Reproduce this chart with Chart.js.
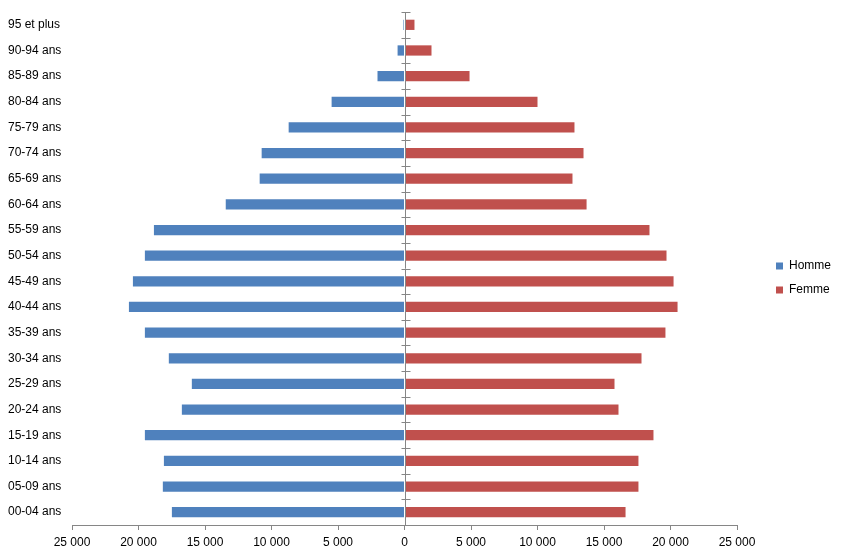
<!DOCTYPE html>
<html>
<head>
<meta charset="utf-8">
<script src="https://cdn.jsdelivr.net/npm/chart.js@4"></script>
<style>
html,body{margin:0;padding:0;background:#fff;}
#wrap{width:843px;height:556px;position:relative;}
</style>
</head>
<body>
<div id="wrap"><canvas id="c" width="843" height="556"></canvas></div>
<script>
const categories = ['95 et plus','90-94 ans','85-89 ans','80-84 ans','75-79 ans','70-74 ans','65-69 ans','60-64 ans','55-59 ans','50-54 ans','45-49 ans','40-44 ans','35-39 ans','30-34 ans','25-29 ans','20-24 ans','15-19 ans','10-14 ans','05-09 ans','00-04 ans'];
const homme = [80, 520, 2030, 5480, 8710, 10740, 10890, 13440, 18840, 19520, 20420, 20720, 19520, 17720, 15990, 16740, 19520, 18090, 18170, 17490];
const femme = [750, 2030, 4890, 10000, 12780, 13460, 12630, 13690, 18420, 19700, 20230, 20530, 19620, 17820, 15790, 16090, 18720, 17590, 17590, 16620];
const seriesNames = ['Homme', 'Femme'];
const xTickMin = -25000, xTickMax = 25000, xTickStep = 5000;

const AXIS = '#868686';
const FONT = {family: 'Liberation Sans', size: 12};

function fmt(v){
  return String(Math.abs(v)).replace(/\B(?=(\d{3})+(?!\d))/g, ' ');
}

const centerAxis = {
  id: 'centerAxis',
  afterDatasetsDraw(chart){
    const x = chart.scales.x, y = chart.scales.y, ctx = chart.ctx;
    const x0 = Math.round(x.getPixelForValue(0)) + 0.5;
    const top = chart.chartArea.top, bottom = chart.chartArea.bottom;
    ctx.save();
    ctx.strokeStyle = AXIS;
    ctx.lineWidth = 1;
    ctx.beginPath();
    ctx.moveTo(x0, top);
    ctx.lineTo(x0, bottom);
    const n = categories.length;
    const bounds = [top];
    for (let i = 1; i < n; i++) bounds.push((y.getPixelForValue(i-1) + y.getPixelForValue(i)) / 2);
    bounds.forEach(b => {
      const yy = Math.round(b) + 0.5;
      ctx.moveTo(x0 - 4, yy);
      ctx.lineTo(x0 + 5, yy);
    });
    ctx.stroke();
    ctx.restore();
  }
};

const legendPlacer = {
  id: 'legendPlacer',
  afterLayout(chart){
    const lg = chart.legend;
    if (!lg) return;
    const h = lg.height;
    lg.left = 764; lg.right = 843; lg.width = lg.right - lg.left;
    lg.top = 248; lg.bottom = lg.top + h;
  }
};

new Chart(document.getElementById('c'), {
  type: 'bar',
  data: {
    labels: categories,
    datasets: [
      {label: seriesNames[0], data: homme.map(v => -v), backgroundColor: '#4F81BD', borderWidth: 0},
      {label: seriesNames[1], data: femme, backgroundColor: '#C0504D', borderWidth: 0}
    ]
  },
  options: {
    indexAxis: 'y',
    responsive: false,
    animation: false,
    devicePixelRatio: 1,
    layout: {padding: {left: 8, top: 12, right: 46, bottom: 0}},
    datasets: {bar: {barPercentage: 0.4, categoryPercentage: 1.0}},
    scales: {
      x: {
        stacked: true,
        min: xTickMin, max: xTickMax,
        ticks: {stepSize: xTickStep, color: '#000', font: FONT, padding: 5, maxRotation: 0, callback: v => fmt(v)},
        grid: {drawOnChartArea: false, drawTicks: true, tickLength: 5, color: AXIS},
        border: {display: true, color: AXIS},
        afterFit: s => { s.height = 31; }
      },
      y: {
        stacked: true,
        ticks: {color: '#000', font: FONT, crossAlign: 'far', padding: 0},
        grid: {display: false},
        border: {display: false},
        afterFit: s => { s.width = 64; }
      }
    },
    plugins: {
      legend: {
        position: 'right',
        align: 'start',
        maxWidth: 60,
        labels: {boxWidth: 7, boxHeight: 7, padding: 12, color: '#000', font: FONT}
      },
      tooltip: {enabled: false}
    }
  },
  plugins: [centerAxis, legendPlacer]
});
</script>
</body>
</html>
